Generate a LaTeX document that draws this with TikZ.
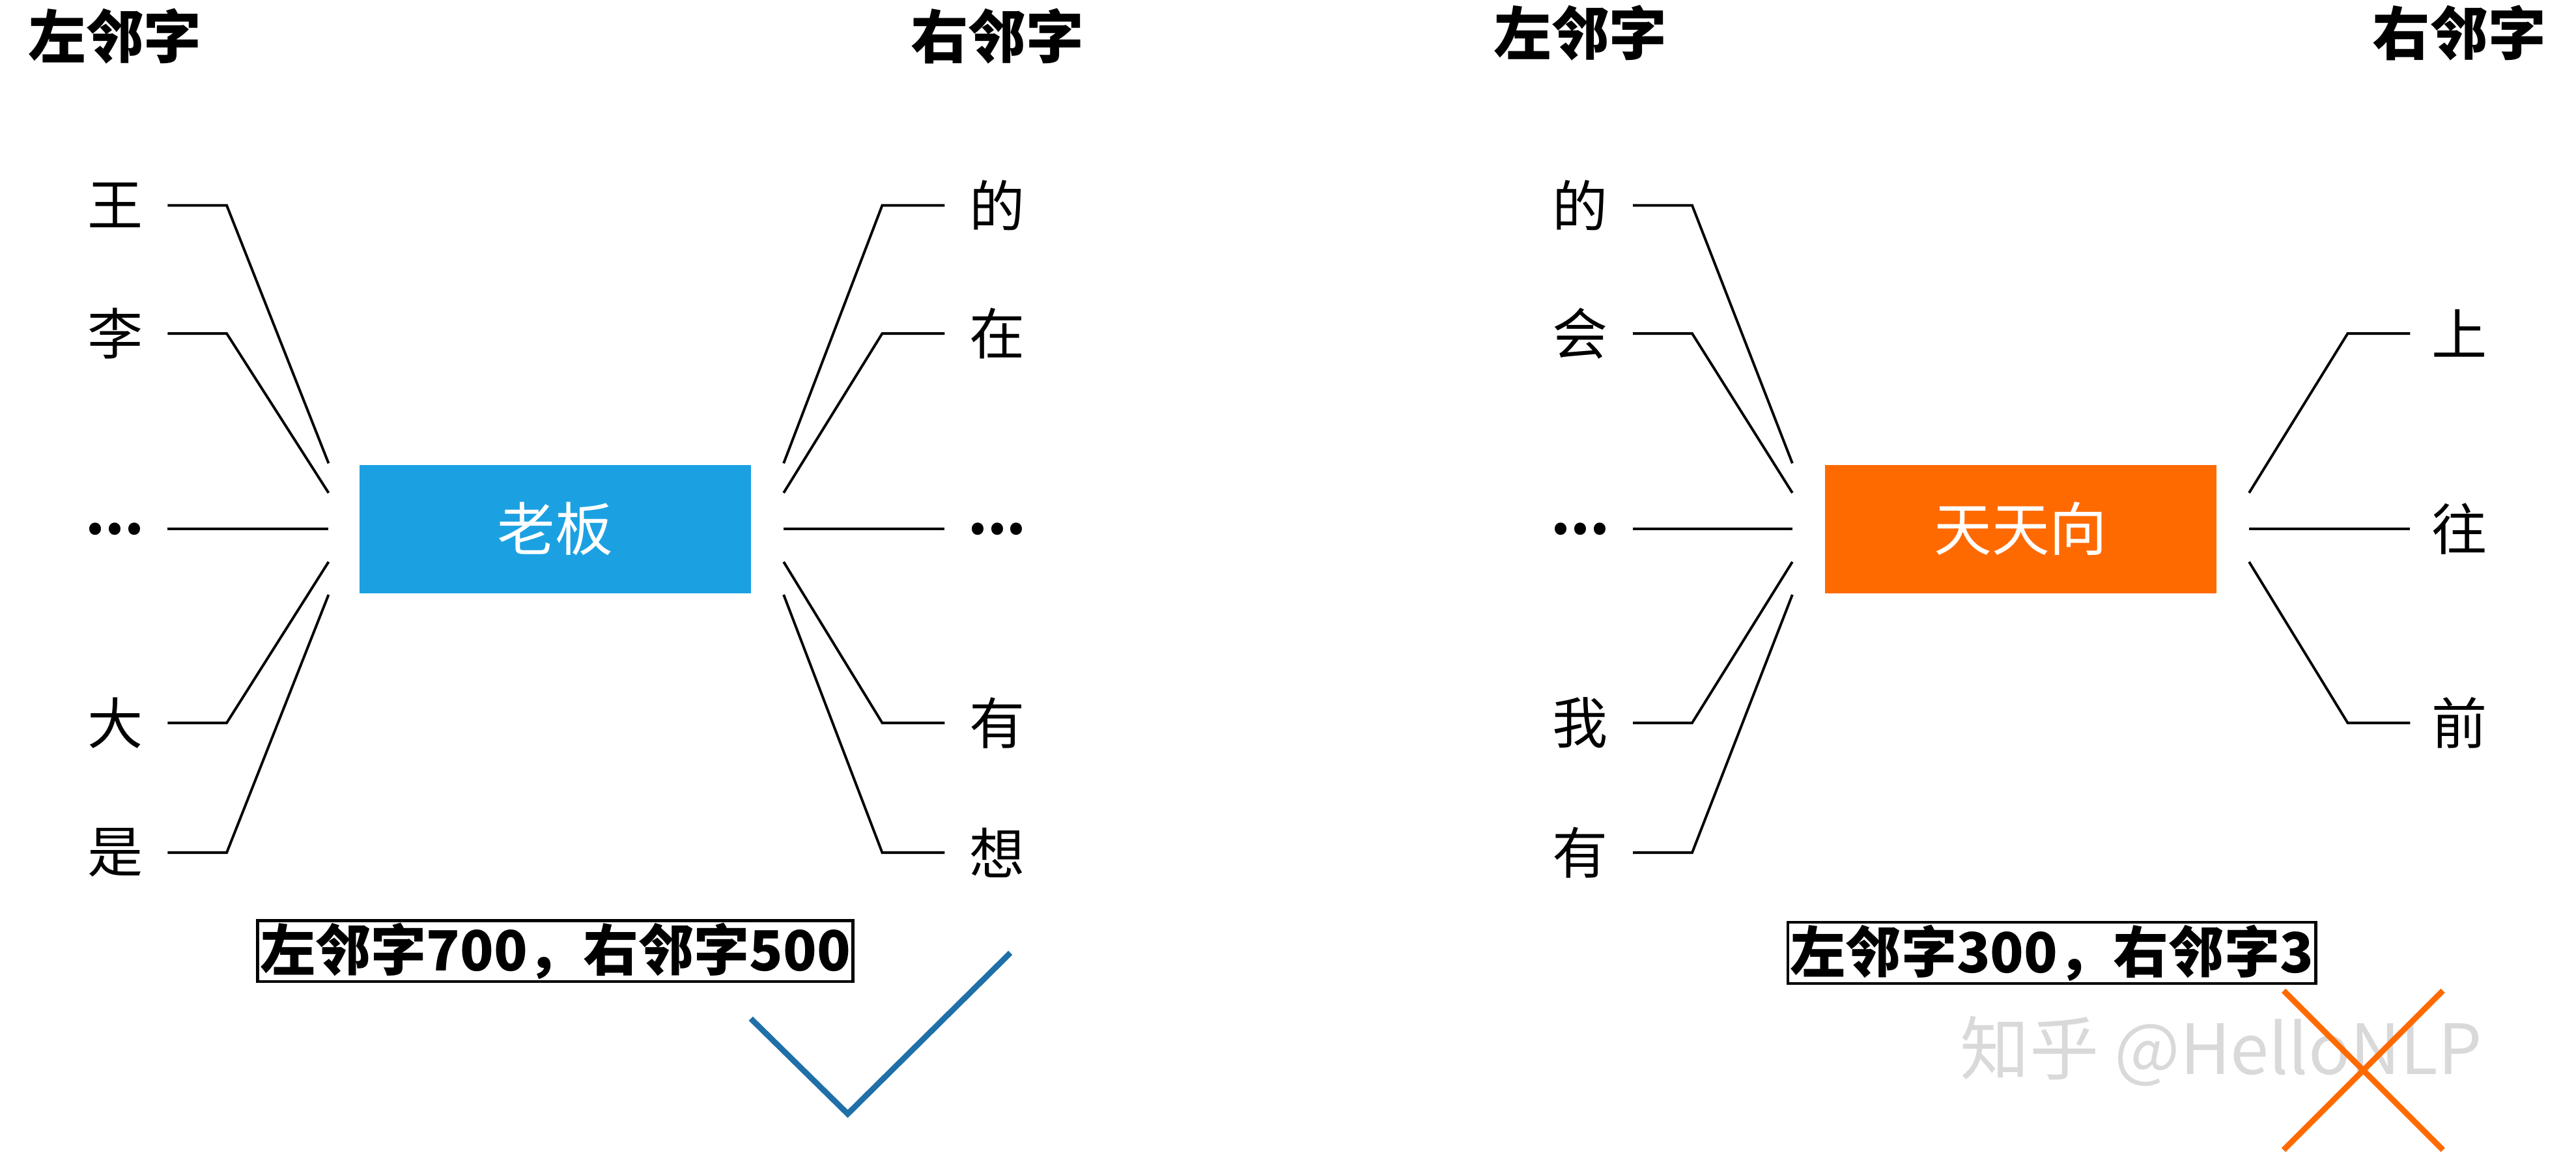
\documentclass[tikz,border=0pt]{standalone}
\usepackage{fontspec}
\setmainfont{Noto Sans CJK SC}
\newcommand{\mydots}{\textbf{...}}
\begin{document}
\begin{tikzpicture}[x=0.025cm,y=-0.025cm,
 word/.style={font=\fontsize{24}{28}\selectfont},
 hdr/.style={font=\fontsize{25}{29}\selectfont\bfseries},
 lbl/.style={draw,line width=1.2pt,font=\fontsize{24}{28}\selectfont\bfseries,inner sep=1pt},
 ln/.style={line width=1.1pt},
 center/.style={minimum width=238*0.025cm,minimum height=78*0.025cm,inner sep=0pt,text=white,font=\fontsize{25}{29}\selectfont}]
\useasboundingbox (0,0) rectangle (1568,706);
\definecolor{cblue}{HTML}{1BA1E2}\definecolor{corange}{HTML}{FF6A00}\definecolor{cdark}{HTML}{1F6FA8}
% headers
\node[hdr] (h1) at (70,22) {左邻字};
\node[hdr] (h2) at (607,22) {右邻字};
\node[hdr] (h3) at (962,20) {左邻字};
\node[hdr] (h4) at (1497,20) {右邻字};
% left graph
\node[center,fill=cblue] (b1) at (338,322) {老板};
\foreach \n/\t/\y in {a/王/125,b/李/203,c/\mydots/322,d/大/440,e/是/519}{\node[word] (L\n) at (70,\y) {\t};}
\foreach \n/\t/\y in {a/的/125,b/在/203,c/\mydots/322,d/有/440,e/想/519}{\node[word] (R\n) at (607,\y) {\t};}
\foreach \n/\y/\e in {a/125/282,b/203/300,d/440/342,e/519/362}{
 \draw[ln] (102,\y) -- (138,\y) -- (200,\e);
 \draw[ln] (575,\y) -- (537,\y) -- (477,\e);}
\draw[ln] (102,322) -- (200,322); \draw[ln] (477,322) -- (575,322);
\node[lbl] (t1) at (338,579) {左邻字700，右邻字500};
\coordinate (c1) at (457,620); \coordinate (c2) at (516,678); \coordinate (c3) at (615,580);
\draw[cdark,line width=2.5pt] (c1) -- (c2) -- (c3);
% right graph
\node[center,fill=corange] (b2) at (1230,322) {天天向};
\foreach \n/\t/\y in {a/的/125,b/会/203,c/\mydots/322,d/我/440,e/有/519}{\node[word] (M\n) at (962,\y) {\t};}
\foreach \n/\t/\y in {b/上/203,c/往/322,d/前/440}{\node[word] (N\n) at (1497,\y) {\t};}
\foreach \y/\e in {125/282,203/300,440/342,519/362}{\draw[ln] (994,\y) -- (1030,\y) -- (1091,\e);}
\draw[ln] (994,322) -- (1091,322);
\draw[ln] (1467,203) -- (1429,203) -- (1369,300);
\draw[ln] (1369,322) -- (1467,322);
\draw[ln] (1467,440) -- (1429,440) -- (1369,342);
\node[text=gray!30,font=\fontsize{30}{34}\selectfont] (wm) at (1352,640) {知乎 @HelloNLP};
\node[lbl] (t2) at (1249,580) {左邻字300，右邻字3};
\draw[corange,line width=2.5pt] (1390,603) -- (1487,700) (1487,603) -- (1390,700);
\end{tikzpicture}
\end{document}
